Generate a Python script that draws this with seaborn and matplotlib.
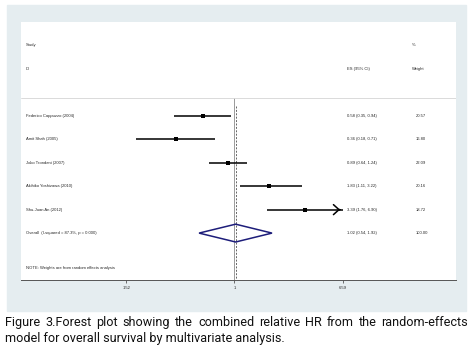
import matplotlib
matplotlib.use("Agg")
import matplotlib.pyplot as plt
import matplotlib.transforms as mtransforms
from matplotlib import font_manager
from matplotlib.patches import Rectangle, Polygon
import seaborn as sns
import pandas as pd

# study data
studies = ["Federico Cappuzzo (2004)", "Amit Shah (2005)", "Joko Trondani (2007)",
           "Akihiko Yoshizawa (2010)", "Shu-Juan An (2012)"]
hr = [0.58, 0.36, 0.89, 1.83, 3.39]
lower = [0.35, 0.18, 0.64, 1.11, 1.76]
upper = [0.94, 0.71, 1.24, 3.22, 6.90]
weights = ["20.57", "16.80", "22.09", "20.16", "18.72"]

overall_hr = 1.02
overall_lo = 0.54
overall_hi = 1.92
overall_label = "Overall  (I-squared = 87.3%, p = 0.000)"
note = "NOTE: Weights are from random effects analysis"

xticks = [0.152, 1, 6.59]
xticklabels = [".152", "1", "6.59"]

caption1 = "Figure 3.Forest plot showing the combined relative HR from the random-effects"
caption2 = "model for overall survival by multivariate analysis."

df = pd.DataFrame({"study": studies, "hr": hr, "lower": lower, "upper": upper,
                   "weight": weights})
df["row"] = range(1, len(df) + 1)

sns.set_style("white")
plt.rcParams["font.family"] = ["Liberation Sans", "DejaVu Sans"]

W, H = 474, 353
fig = plt.figure(figsize=(W / 100, H / 100), dpi=100)
fig.patches.append(Rectangle((7 / W, 1 - 311 / H), 459 / W, 306 / H,
                             transform=fig.transFigure, color="#e5edf0", zorder=0))
ax = fig.add_axes([21 / W, 1 - 280 / H, 435 / W, 258 / H])
ax.set_zorder(2)
ax.set_facecolor("white")
ax.set_xscale("log")
ax.set_xlim(0.02441, 47.1)
ax.set_ylim(8.0, -3.0)
xmax_axis = xticks[-1]

# null line and overall line
ax.vlines(1, 0.23, 8.0, color="#8a8a8a", lw=0.6, zorder=1)
ax.vlines(overall_hr, 0.6, 8.0, color="#666666", lw=0.7, linestyles=(0, (2, 1.5)), zorder=1)

# header separator
ax.axhline(0.23, color="#d4d4d4", lw=0.6)

# confidence intervals
for _, r in df.iterrows():
    hi = min(r["upper"], xmax_axis)
    ax.hlines(r["row"], r["lower"], hi, color="black", lw=1.1, zorder=3)
    if r["upper"] > xmax_axis:
        ax.annotate("", xy=(xmax_axis, r["row"]), xytext=(hi * 0.9, r["row"]),
                    arrowprops=dict(arrowstyle="->,head_length=0.5,head_width=0.45",
                                    color="black", lw=1.1, mutation_scale=8))

sns.scatterplot(data=df, x="hr", y="row", marker="s", color="black", s=9,
                edgecolor="black", linewidth=0, ax=ax, zorder=4, legend=False)

# pooled estimate diamond
d = 0.38
ax.add_patch(Polygon([(overall_lo, 6), (overall_hr, 6 - d), (overall_hi, 6),
                      (overall_hr, 6 + d)], closed=True, fill=False,
                     edgecolor="#1d1d7a", lw=1.1, zorder=4))

# text columns
tr = mtransforms.blended_transform_factory(ax.transAxes, ax.transData)
fs = 3.0
x_id, x_es, x_wh, x_w = 5 / 435, 326 / 435, 391 / 435, 395 / 435
ax.text(x_id, -2, "Study", fontsize=fs, transform=tr, va="center")
ax.text(x_id, -1, "ID", fontsize=fs, transform=tr, va="center")
ax.text(x_es, -1, "ES (95% CI)", fontsize=fs, transform=tr, va="center")
ax.text(x_wh, -2, "%", fontsize=fs, transform=tr, va="center")
ax.text(x_wh, -1, "Weight", fontsize=fs, transform=tr, va="center")
for _, r in df.iterrows():
    ax.text(x_id, r["row"], r["study"], fontsize=fs, transform=tr, va="center")
    ax.text(x_es, r["row"], "%.2f (%.2f, %.2f)" % (r["hr"], r["lower"], r["upper"]),
            fontsize=fs, transform=tr, va="center")
    ax.text(x_w, r["row"], r["weight"], fontsize=fs, transform=tr, va="center")
ax.text(x_id, 6, overall_label, fontsize=fs, transform=tr, va="center")
ax.text(x_es, 6, "%.2f (%.2f, %.2f)" % (overall_hr, overall_lo, overall_hi),
        fontsize=fs, transform=tr, va="center")
ax.text(x_w, 6, "100.00", fontsize=fs, transform=tr, va="center")
ax.text(x_id, 7.5, note, fontsize=fs, transform=tr, va="center")

# axis
for s in ["top", "left", "right"]:
    ax.spines[s].set_visible(False)
ax.spines["bottom"].set_color("#555555")
ax.spines["bottom"].set_linewidth(0.7)
ax.set_xticks(xticks)
ax.set_xticklabels(xticklabels)
ax.xaxis.set_minor_locator(matplotlib.ticker.NullLocator())
ax.tick_params(axis="x", bottom=True, length=2.5, width=0.6, color="#555555",
               labelsize=fs, pad=1.5)
ax.set_yticks([])
ax.set_xlabel("")
ax.set_ylabel("")

# caption, narrow face if there is one (the original looks like Calibri)
names = {f.name for f in font_manager.fontManager.ttflist}
cap_face = "Liberation Sans Narrow" if "Liberation Sans Narrow" in names else "Roboto"
cap_font = dict(family=[cap_face, "DejaVu Sans"], color="#111111")
fig.canvas.draw()
rend = fig.canvas.get_renderer()
t2 = fig.text(5 / W, 1 - 342 / H, caption2, fontsize=8, va="baseline", **cap_font)
cfs = 8 * 280 / t2.get_window_extent(rend).width
t2.set_fontsize(cfs)
words = caption1.split()
txts = [fig.text(0, 1 - 326 / H, w, fontsize=cfs, va="baseline", **cap_font) for w in words]
widths = [t.get_window_extent(rend).width for t in txts]
gap = (468 - 5 - sum(widths)) / (len(words) - 1)
x = 5
for t, w in zip(txts, widths):
    t.set_x(x / W)
    x += w + gap

fig.savefig("out.png", dpi=100)
